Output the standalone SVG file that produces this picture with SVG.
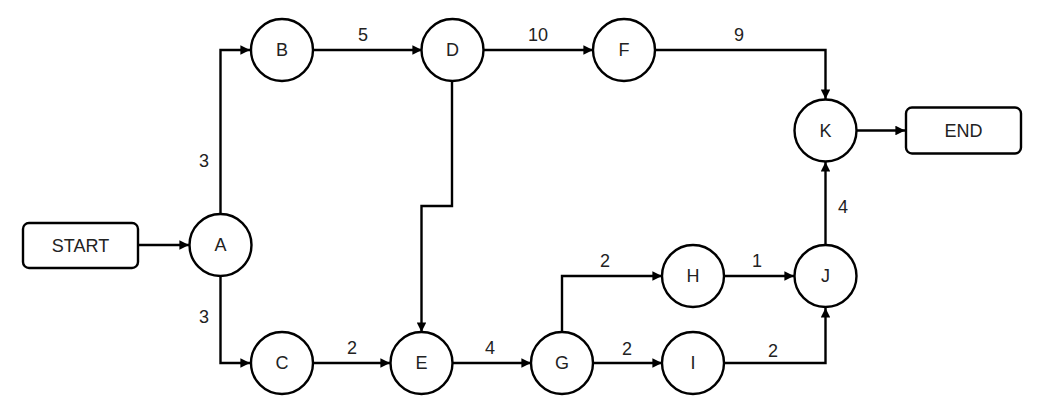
<svg xmlns="http://www.w3.org/2000/svg" width="1048" height="402" viewBox="0 0 1048 402">
<defs>
<marker id="arr" viewBox="0 0 10 10" refX="10" refY="5" markerWidth="4" markerHeight="4" orient="auto" markerUnits="strokeWidth">
<path d="M0,0 L10,5 L0,10 Z" fill="#000"/>
</marker>
<style>
.n{fill:#fff;stroke:#000;stroke-width:2.4}
.t{font-family:"Liberation Sans",Arial,sans-serif;font-size:18px;fill:#222;text-anchor:middle;dominant-baseline:central}
.e{fill:none;stroke:#000;stroke-width:2.4;marker-end:url(#arr)}
.l{font-family:"Liberation Sans",Arial,sans-serif;font-size:18px;fill:#222;text-anchor:middle;dominant-baseline:central}
</style>
</defs>
<rect width="1048" height="402" fill="#fff"/>
<g id="connectors">
<path class="e" d="M138,245 H189"/>
<path class="e" d="M220.5,214 V50 H250"/>
<path class="e" d="M220.5,276 V363 H250"/>
<path class="e" d="M313,50 H422"/>
<path class="e" d="M483,50 H593"/>
<path class="e" d="M655,50 H825.5 V99"/>
<path class="e" d="M452,81 V206 H421.5 V332"/>
<path class="e" d="M313,363 H390"/>
<path class="e" d="M452,363 H531"/>
<path class="e" d="M562,332 V276 H662"/>
<path class="e" d="M593,363 H662"/>
<path class="e" d="M724,276 H794"/>
<path class="e" d="M724,363 H825.5 V308"/>
<path class="e" d="M825.5,245 V162"/>
<path class="e" d="M856,130.5 H905"/>
<text class="l" x="204" y="161">3</text>
<text class="l" x="204" y="317">3</text>
<text class="l" x="363" y="35">5</text>
<text class="l" x="538" y="35">10</text>
<text class="l" x="739" y="35">9</text>
<text class="l" x="352" y="348">2</text>
<text class="l" x="490" y="348">4</text>
<text class="l" x="605" y="261">2</text>
<text class="l" x="757" y="261">1</text>
<text class="l" x="627" y="349">2</text>
<text class="l" x="773" y="351">2</text>
<text class="l" x="843" y="207">4</text>
</g>
<g id="START"><rect class="n" x="23" y="223" width="115" height="45" rx="6"/><text class="t" x="80.5" y="245.5">START</text></g>
<g id="END"><rect class="n" x="906" y="107.5" width="115" height="46" rx="6"/><text class="t" x="963.5" y="130.5">END</text></g>
<g id="A"><circle class="n" cx="220.5" cy="245" r="31"/><text class="t" x="220.5" y="245">A</text></g>
<g id="B"><circle class="n" cx="282" cy="50" r="31"/><text class="t" x="282" y="50">B</text></g>
<g id="C"><circle class="n" cx="282" cy="363" r="31"/><text class="t" x="282" y="363">C</text></g>
<g id="D"><circle class="n" cx="452.5" cy="50" r="31"/><text class="t" x="452.5" y="50">D</text></g>
<g id="E"><circle class="n" cx="421.5" cy="363" r="31"/><text class="t" x="421.5" y="363">E</text></g>
<g id="F"><circle class="n" cx="624" cy="50" r="31"/><text class="t" x="624" y="50">F</text></g>
<g id="G"><circle class="n" cx="562" cy="363" r="31"/><text class="t" x="562" y="363">G</text></g>
<g id="H"><circle class="n" cx="693" cy="276" r="31"/><text class="t" x="693" y="276">H</text></g>
<g id="I"><circle class="n" cx="693" cy="363" r="31"/><text class="t" x="693" y="363">I</text></g>
<g id="J"><circle class="n" cx="825.5" cy="276" r="31"/><text class="t" x="825.5" y="276">J</text></g>
<g id="K"><circle class="n" cx="825.5" cy="130.5" r="31"/><text class="t" x="825.5" y="130.5">K</text></g>
</svg>
